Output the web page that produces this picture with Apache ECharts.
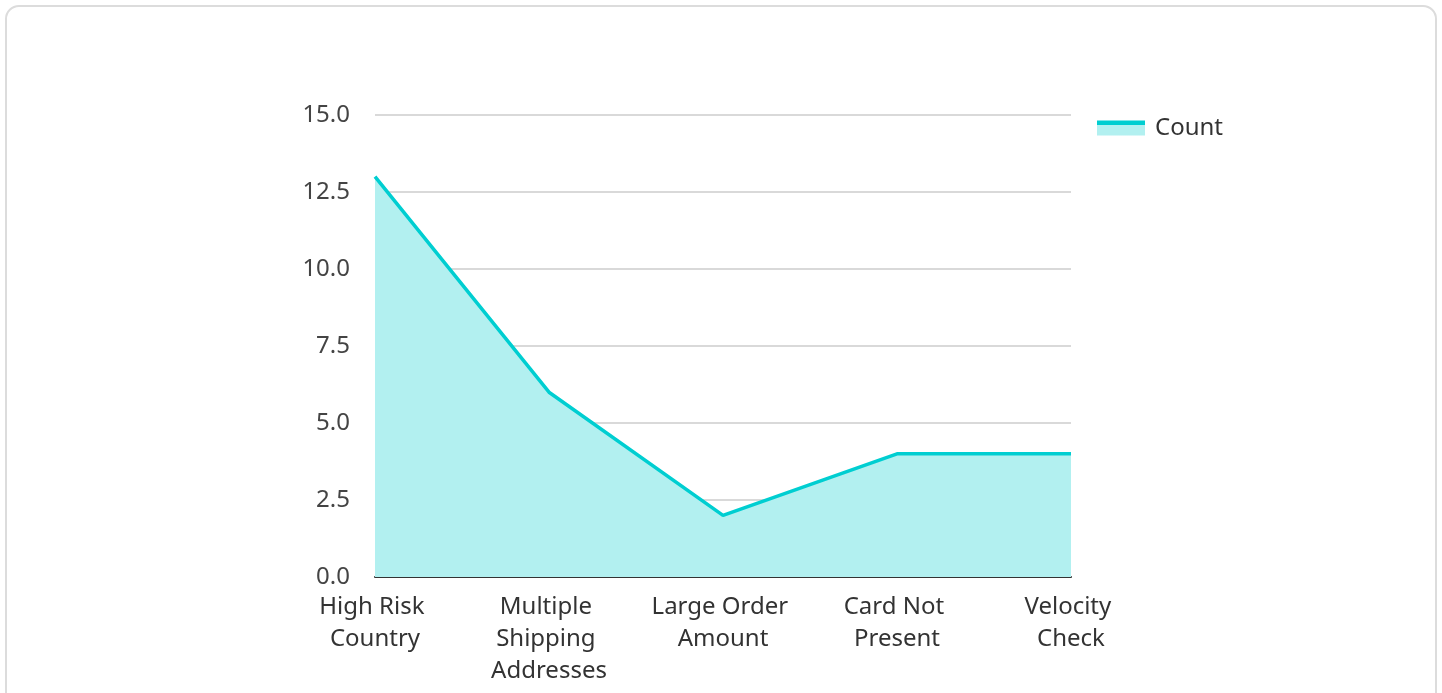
<!DOCTYPE html>
<html>
	<head>
		<meta charset="UTF-8">
		<title></title>
		<style>
			html, body { margin: 0; padding: 0; background: #fff; }
			/* 卡片外框 */
			.card {
				position: absolute; left: 5px; top: 5px; width: 1432px; height: 720px;
				border: 2px solid #dcdcdc; border-radius: 14px; box-sizing: border-box;
			}
			#chart { position: absolute; left: 0; top: 0; width: 1442px; height: 693px; }
		</style>
	</head>
	<body>
		<div class="card"></div>
		<div id="chart"></div>

		<script src="https://cdn.jsdelivr.net/npm/echarts@6/dist/echarts.min.js"></script>
		<script type="text/javascript">
			// 数据
			var categories = ['High Risk Country', 'Multiple Shipping Addresses', 'Large Order Amount', 'Card Not Present', 'Velocity Check'];
			var counts = [13, 6, 2, 4, 4];
			var seriesName = 'Count';

			var myChart = echarts.init(document.getElementById('chart'));
			var font = '"Noto Sans", "Open Sans", sans-serif';
			var lineColor = '#00CED1';
			var fillColor = '#B2F0F0';

			var option = {
				animation: false,
				textStyle: { fontFamily: font },
				grid: { left: 375, top: 115, width: 696, height: 462 },
				// 图例
				legend: {
					data: [{
						name: seriesName,
						icon: 'rect',
						itemStyle: {
							color: new echarts.graphic.LinearGradient(0, 0, 0, 1, [
								{ offset: 0, color: lineColor },
								{ offset: 0.27, color: lineColor },
								{ offset: 0.27, color: fillColor },
								{ offset: 1, color: fillColor }
							])
						}
					}],
					left: 1097, top: 116, padding: 0,
					itemWidth: 48, itemHeight: 15,
					textStyle: { fontSize: 24, color: '#333', fontFamily: font, padding: [0, 0, 11, 5] }
				},
				xAxis: {
					type: 'category',
					boundaryGap: false,
					data: categories,
					axisLine: { lineStyle: { color: '#333', width: 2 } },
					axisTick: { show: false },
					axisLabel: {
						interval: 0, margin: 14, fontSize: 24, color: '#333',
						lineHeight: 32, width: 145, overflow: 'break', fontFamily: font
					}
				},
				yAxis: {
					type: 'value',
					min: 0, max: 15, interval: 2.5,
					axisLine: { show: false },
					axisTick: { show: false },
					splitLine: { lineStyle: { color: '#ccc', width: 1.5 } },
					axisLabel: {
						margin: 25, fontSize: 24, color: '#444', fontFamily: font,
						formatter: function (v) { return v.toFixed(1); }
					}
				},
				series: [{
					name: seriesName,
					type: 'line',
					data: counts,
					symbol: 'none',
					lineStyle: { color: lineColor, width: 3.5 },
					itemStyle: { color: lineColor },
					areaStyle: { color: fillColor, opacity: 1 }
				}]
			};

			myChart.setOption(option);
		</script>
	</body>
</html>
